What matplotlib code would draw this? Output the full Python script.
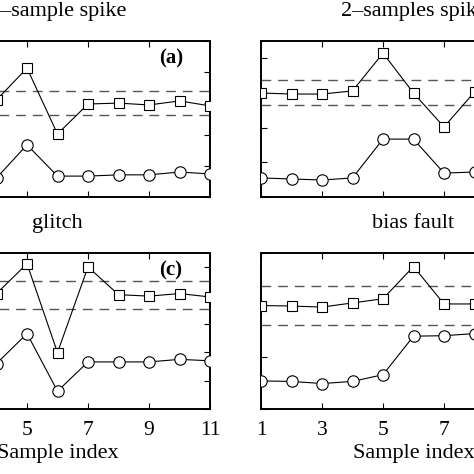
import matplotlib
matplotlib.use('Agg')
import matplotlib.pyplot as plt

plt.rcParams['font.family'] = ['Liberation Serif', 'DejaVu Serif']
plt.rcParams['xtick.direction'] = 'in'
plt.rcParams['ytick.direction'] = 'in'
plt.rcParams['xtick.top'] = True
plt.rcParams['ytick.right'] = True

# sample index 1..11 (part of every panel is outside the crop)
sample_idx = list(range(1, 12))
x_ticks = [1, 3, 5, 7, 9, 11]

# (a) 1-sample spike
spike1_sq = [3.00, 3.05, 2.95, 3.11, 4.13, 2.02, 2.98, 3.01, 2.95, 3.08, 2.92]
spike1_ci = [0.70, 0.65, 0.72, 0.61, 1.67, 0.67, 0.67, 0.71, 0.71, 0.80, 0.74]
spike1_band = [3.40, 2.63]

# (b) 2-samples spike
spike2_sq = [3.00, 2.97, 2.97, 3.06, 4.15, 3.00, 2.02, 3.03, 2.98, 3.04, 2.96]
spike2_ci = [0.55, 0.52, 0.49, 0.55, 1.67, 1.67, 0.69, 0.72, 0.70, 0.74, 0.71]
spike2_band = [3.37, 2.65]

# (c) glitch
glitch_sq = [4.00, 4.05, 3.97, 4.07, 5.12, 1.99, 5.01, 4.03, 3.98, 4.07, 3.95]
glitch_ci = [1.65, 1.60, 1.68, 1.60, 2.66, 0.63, 1.66, 1.66, 1.66, 1.75, 1.70]
glitch_band = [4.51, 3.52]

# (d) bias fault
bias_sq = [1.99, 1.98, 1.96, 2.04, 2.12, 2.74, 2.02, 2.02, 2.00, 2.03, 1.99]
bias_ci = [0.54, 0.53, 0.49, 0.53, 0.66, 1.40, 1.41, 1.45, 1.43, 1.44, 1.42]
bias_band = [2.37, 1.62]

fig = plt.figure(figsize=(4.74, 4.74), dpi=100)

W = 305 / 474
H = 156 / 474
panels = [
    # rect, title, tag, squares, circles, band, ylim, show x labels
    ([-95 / 474, 277 / 474, W, H], '1\u2013sample spike', '(a)', spike1_sq, spike1_ci, spike1_band, 5.0, False),
    ([261 / 474, 277 / 474, W, H], '2\u2013samples spike', '(b)', spike2_sq, spike2_ci, spike2_band, 4.5, False),
    ([-95 / 474, 65 / 474, W, H], 'glitch', '(c)', glitch_sq, glitch_ci, glitch_band, 5.5, True),
    ([261 / 474, 65 / 474, W, H], 'bias fault', '(d)', bias_sq, bias_ci, bias_band, 3.0, True),
]

for rect, title, tag, sq, ci, band, ytop, bottom in panels:
    ax = fig.add_axes(rect)
    for yb in band:
        ax.axhline(yb, color='#555555', lw=1.0, ls=(0, (7, 5)), zorder=1)
    ax.plot(sample_idx, sq, color='black', lw=0.8, marker='s', ms=7,
            mfc='white', mec='black', mew=0.8, zorder=3)
    ax.plot(sample_idx, ci, color='black', lw=0.8, marker='o', ms=8.2,
            mfc='white', mec='black', mew=0.8, zorder=3)
    ax.set_xlim(1, 11)
    ax.set_ylim(0, ytop)
    ax.set_xticks(x_ticks)
    ax.set_yticks(range(0, int(ytop) + 1))
    ax.set_yticklabels([])
    if bottom:
        ax.set_xticklabels([str(v) for v in x_ticks], fontsize=15.5)
        ax.set_xlabel('Sample index', fontsize=16, labelpad=3)
    else:
        ax.set_xticklabels([])
    ax.tick_params(length=4, width=0.8, pad=8.5)
    for sp in ax.spines.values():
        sp.set_linewidth(1.4)
    ax.text(0.5, 1.16, title, transform=ax.transAxes, ha='center',
            va='baseline', fontsize=16)
    ax.text(0.872, 0.885, tag, transform=ax.transAxes, ha='center',
            va='center', fontsize=15, fontweight='bold')

fig.savefig('out.png', dpi=100)
